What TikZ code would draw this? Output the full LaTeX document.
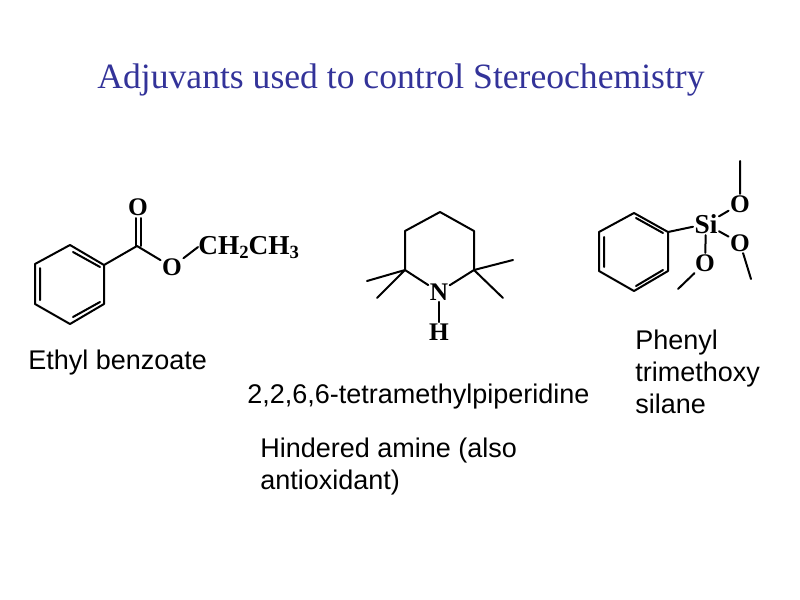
\documentclass[tikz,border=0pt]{standalone}
\usepackage{fontspec}
\setmainfont{Liberation Serif}
\newfontfamily\labelfont{Liberation Sans}
\definecolor{titleblue}{RGB}{51,51,153}
\newcommand{\subdigit}[1]{\raisebox{-3pt}{\fontsize{14}{14}\selectfont #1}}
\tikzset{
  x=0.75pt,y=-0.75pt,
  bond/.style={line width=1.5pt,line cap=round,line join=round,black},
  atom/.style={inner sep=1pt,font=\fontsize{19}{19}\selectfont\bfseries},
  bigatom/.style={atom,font=\fontsize{20.5}{20.5}\selectfont\bfseries},
  caption/.style={anchor=base west,inner sep=0pt,align=left,font=\labelfont\fontsize{20.25}{24}\selectfont,text=black},
}
\begin{document}
\begin{tikzpicture}
\useasboundingbox (0,0) rectangle (800,600);
\node[anchor=base,inner sep=0pt,text=titleblue,font=\fontsize{26.7}{26.7}\selectfont] (title) at (401,88) {Adjuvants used to control Stereochemistry};

% --- Ethyl benzoate ---
\coordinate (a1) at (70,245);
\coordinate (a2) at (104,265);
\coordinate (a3) at (104,304);
\coordinate (a4) at (70,324);
\coordinate (a5) at (35,304);
\coordinate (a6) at (35,264);
\coordinate (aC) at (137,246);
\node[atom] (aO1) at (138,207) {O};
\node[atom] (aO2) at (172,267) {O};
\node[bigatom,anchor=base west,inner sep=0pt] (aEt) at (198,254) {CH\subdigit{2}CH\subdigit{3}};
\draw[bond] (a1)--(a2)--(a3)--(a4)--(a5)--(a6)--cycle;
\draw[bond] (73,252)--(100,267) (73,317)--(100,302) (40,268)--(40,300);
\draw[bond] (a2)--(aC)--(aO2);
\draw[bond] (aO2)--(aEt.west);
\draw[bond] (136,218)--(136,246) (140.5,218)--(140.5,246);

% --- 2,2,6,6-tetramethylpiperidine ---
\coordinate (b1) at (440,212);
\coordinate (b2) at (474,231);
\coordinate (b3) at (474,270);
\coordinate (b5) at (405,270);
\coordinate (b6) at (405,231);
\node[atom] (bN) at (439,292) {N};
\node[atom] (bH) at (439,332) {H};
\coordinate (bm1) at (367,281);
\coordinate (bm2) at (377,298);
\coordinate (bm3) at (513,260);
\coordinate (bm4) at (503,298);
\draw[bond] (bN)--(b3)--(b2)--(b1)--(b6)--(b5)--(bN);
\draw[bond] (b5)--(bm1) (b5)--(bm2) (b3)--(bm3) (b3)--(bm4);
\draw[bond] (bN)--(bH);

% --- Phenyl trimethoxy silane ---
\coordinate (c1) at (634,213);
\coordinate (c2) at (668,232);
\coordinate (c3) at (668,271);
\coordinate (c4) at (634,291);
\coordinate (c5) at (599,271);
\coordinate (c6) at (599,232);
\node[bigatom] (cSi) at (706,224) {Si};
\node[atom] (cO1) at (740,204) {O};
\node[atom] (cO2) at (740,243) {O};
\node[atom] (cO3) at (705,263) {O};
\coordinate (cm1) at (740,161);
\coordinate (cm2) at (751,279);
\coordinate (cm3) at (678,289);
\draw[bond] (c1)--(c2)--(c3)--(c4)--(c5)--(c6)--cycle;
\draw[bond] (636,218)--(663,233) (636,286)--(663,270) (604,237)--(604,267);
\draw[bond] (c2)--(cSi);
\draw[bond] (cSi)--(cO1) (cSi)--(cO2) (cSi)--(cO3);
\draw[bond] (cO1)--(cm1) (cO2)--(cm2) (cO3)--(cm3);

% --- captions ---
\node[caption] (l1) at (28,369) {Ethyl benzoate};
\node[caption] (l2) at (247,403) {2,2,6,6-tetramethylpiperidine};
\node[caption] (l3) at (260,489) {Hindered amine (also\\antioxidant)};
\node[caption] (l4) at (635,413) {Phenyl\\trimethoxy\\silane};
\end{tikzpicture}
\end{document}
